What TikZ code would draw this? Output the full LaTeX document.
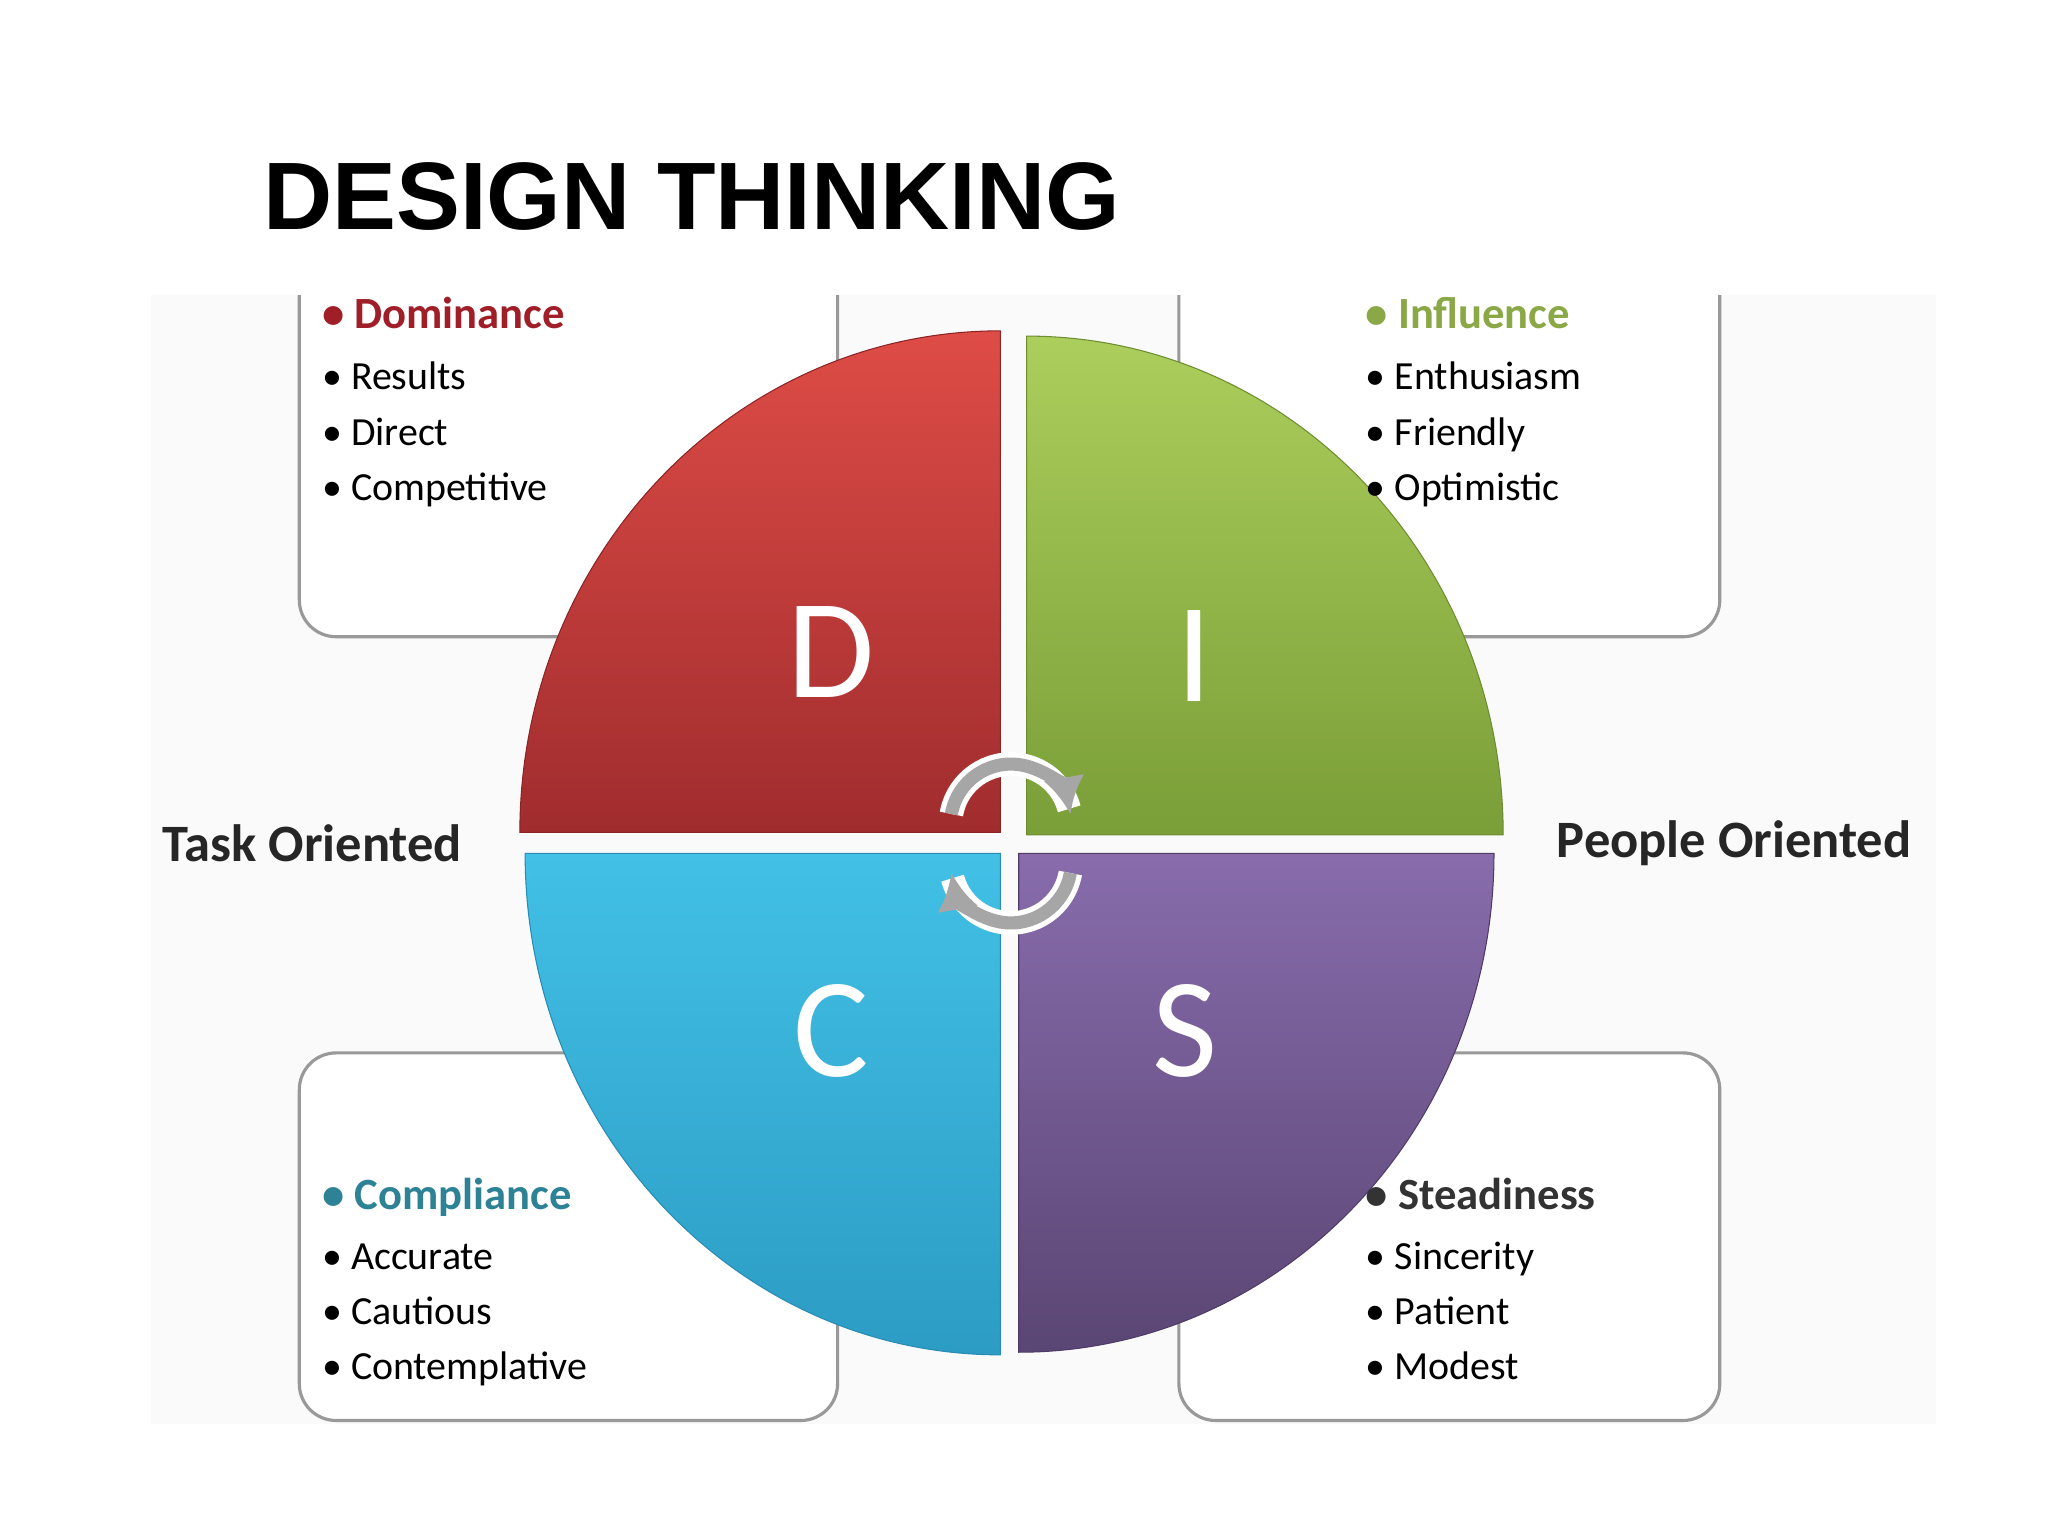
\documentclass[tikz,border=0pt]{standalone}
\usepackage{fontspec}
\usetikzlibrary{arrows.meta}
\setmainfont{Carlito}
\newfontfamily\titlefont{Liberation Sans}
\begin{document}
\begin{tikzpicture}[x=0.5pt,y=-0.5pt,
  boxst/.style={draw=black!40,line width=1.2pt,fill=white,rounded corners=14pt},
  itemst/.style={anchor=base west,font=\fontsize{15.2}{18}\selectfont,inner sep=0pt},
  headst/.style={anchor=base west,font=\fontsize{17}{20}\selectfont\bfseries,inner sep=0pt},
  letterst/.style={text=white,font=\fontsize{54}{60}\selectfont},
  sidest/.style={font=\fontsize{20}{24}\selectfont\bfseries,text=black!85},
  arrst/.style={line width=5pt,draw=black!35,-{Latex[length=14pt,width=16pt]}}]
\useasboundingbox (0,0) rectangle (1560,1169.3);
\fill[white] (0,0) rectangle (1560,1169.3);
\fill[black!2] (115,225) rectangle (1475,1085);
\node[anchor=base west,inner sep=0pt,font=\fontsize{36.5}{40}\selectfont\titlefont\bfseries] (title) at (200,175) {DESIGN THINKING};
% boxes
\begin{scope}
\clip (115,225) rectangle (1475,1085);
\draw[boxst] (228,180) rectangle (638,485);
\draw[boxst] (898,180) rectangle (1310,485);
\draw[boxst] (228,802) rectangle (638,1082);
\draw[boxst] (898,802) rectangle (1310,1082);
\end{scope}
% quadrants
\shade[top color={rgb,255:red,222;green,76;blue,70},bottom color={rgb,255:red,160;green,44;blue,46},draw={rgb,255:red,140;green,36;blue,38}]
  (762,634) -- ++(-366,0) arc[start angle=180,end angle=270,x radius=366,y radius=382] -- cycle;
\shade[top color={rgb,255:red,172;green,206;blue,92},bottom color={rgb,255:red,122;green,158;blue,56},draw={rgb,255:red,110;green,140;blue,50}]
  (782,636) -- ++(0,-380) arc[start angle=270,end angle=360,x radius=363,y radius=380] -- cycle;
\shade[top color={rgb,255:red,66;green,192;blue,230},bottom color={rgb,255:red,44;green,156;blue,196},draw={rgb,255:red,40;green,140;blue,180}]
  (762,650) -- ++(-362,0) arc[start angle=180,end angle=90,x radius=362,y radius=382] -- cycle;
\shade[top color={rgb,255:red,136;green,108;blue,172},bottom color={rgb,255:red,90;green,70;blue,116},draw={rgb,255:red,80;green,60;blue,104}]
  (776,650) -- ++(362,0) arc[start angle=0,end angle=90,x radius=362,y radius=380] -- cycle;
\node[letterst] (D) at (633,497) {D};
\node[letterst] (I) at (910,500) {I};
\node[letterst] (C) at (633,785) {C};
\node[letterst] (S) at (903,785) {S};
% arrows
\draw[line width=9pt,white] (770,628) ++(190:46) arc[start angle=190,end angle=345,radius=46];
\draw[arrst] (770,628) ++(190:46) arc[start angle=190,end angle=350,radius=46];
\draw[line width=9pt,white] (770,657) ++(10:46) arc[start angle=10,end angle=165,radius=46];
\draw[arrst] (770,657) ++(10:46) arc[start angle=10,end angle=170,radius=46];
% side labels
\node[sidest] (task) at (238,642) {Task Oriented};
\node[sidest] (people) at (1321,642) {People Oriented};
% texts
\node[headst,text={rgb,255:red,160;green,30;blue,40}] (d0) at (245,250) {• Dominance};
\node[itemst] (d1) at (245,297) {• Results};
\node[itemst] (d2) at (245,339) {• Direct};
\node[itemst] (d3) at (245,381) {• Competitive};
\node[headst,text={rgb,255:red,138;green,168;blue,70}] (i0) at (1040,250) {• Influence};
\node[itemst] (i1) at (1040,297) {• Enthusiasm};
\node[itemst] (i2) at (1040,339) {• Friendly};
\node[itemst] (i3) at (1040,381) {• Optimistic};
\node[headst,text={rgb,255:red,46;green,130;blue,150}] (c0) at (245,921) {• Compliance};
\node[itemst] (c1) at (245,967) {• Accurate};
\node[itemst] (c2) at (245,1009) {• Cautious};
\node[itemst] (c3) at (245,1051) {• Contemplative};
\node[headst,text=black!80] (s0) at (1040,921) {• Steadiness};
\node[itemst] (s1) at (1040,967) {• Sincerity};
\node[itemst] (s2) at (1040,1009) {• Patient};
\node[itemst] (s3) at (1040,1051) {• Modest};
\end{tikzpicture}
\end{document}
